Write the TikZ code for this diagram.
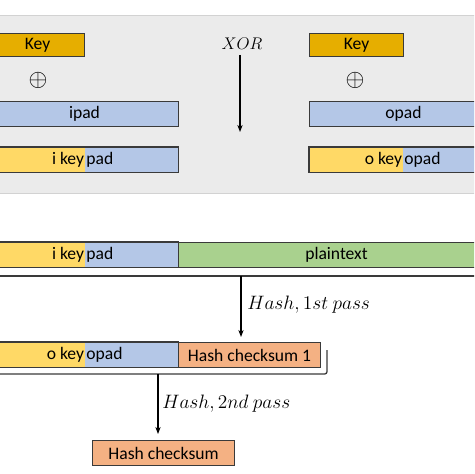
\documentclass[tikz,border=0pt]{standalone}
\usepackage{fontspec}
\setmainfont{Carlito}
\usetikzlibrary{arrows.meta}
\definecolor{keygold}{HTML}{E6AE00}
\definecolor{keylight}{HTML}{FFD966}
\definecolor{padblue}{HTML}{B4C7E7}
\definecolor{plaingreen}{HTML}{A9D18E}
\definecolor{sumorange}{HTML}{F4B183}
\definecolor{edge}{HTML}{3A3A3A}
\definecolor{panel}{HTML}{EBEBEB}
\definecolor{panelline}{HTML}{D2D2D2}
\tikzset{
  bar/.style={inner sep=0pt, minimum height=7.5mm, anchor=north west, font=\fontsize{15}{17}\selectfont},
  outline/.style={draw=edge, line width=0.9pt},
  lbl/.style={inner sep=1pt, font=\fontsize{15}{17}\selectfont},
  mlbl/.style={inner sep=0pt, anchor=west, font=\fontsize{14.4}{17}\selectfont, scale=1.15},
  arr/.style={line width=1.1pt, -{Stealth[length=6pt,width=4.5pt]}},
}
\begin{document}
\begin{tikzpicture}[x=0.3mm,y=-0.3mm]
\useasboundingbox (0,0) rectangle (474,474);
\clip (0,0) rectangle (474,474);
% XOR panel
\draw[fill=panel, draw=panelline] (-10,15) rectangle (497,193);
\node[bar, outline, fill=keygold, minimum width=28.2mm, minimum height=6.9mm] (keyL) at (-10,33) {Key};
\node[bar, outline, fill=keygold, minimum width=28.2mm, minimum height=6.9mm] (keyR) at (309,33) {Key};
\node[font=\fontsize{17.28}{20}\selectfont, inner sep=0pt, scale=1.2] (xorL) at (38,80) {$\oplus$};
\node[font=\fontsize{17.28}{20}\selectfont, inner sep=0pt, scale=1.2] (xorR) at (355,80) {$\oplus$};
\node[bar, outline, fill=padblue, minimum width=56.4mm] (ipad) at (-10,101) {ipad};
\node[bar, outline, fill=padblue, minimum width=56.4mm] (opad) at (309,101) {opad};
% i key pad / o key opad
\node[bar, fill=keylight, minimum width=28.5mm] (ikey) at (-10,147) {};
\node[bar, fill=padblue, minimum width=27.9mm] (ipadB) at (85,147) {};
\draw[outline] (ikey.north west) rectangle (ipadB.south east);
\node[lbl, anchor=east] (ikeyT) at (ikey.east) {i key};
\node[lbl, anchor=west] (ipadT) at (ipadB.west) {pad};
\node[bar, fill=keylight, minimum width=28.2mm] (okey) at (309,147) {};
\node[bar, fill=padblue, minimum width=28.2mm] (opadB) at (403,147) {};
\draw[outline] (okey.north west) rectangle (opadB.south east);
\node[lbl, anchor=east] (okeyT) at (okey.east) {o key};
\node[lbl, anchor=west] (opadT) at (opadB.west) {opad};
\node[font=\fontsize{14.4}{16}\selectfont, inner sep=0pt] (xor) at (242,44) {$XOR$};
\coordinate (xorEnd) at (240,132);
\draw[arr] (240,55) -- (xorEnd);
% first pass
\node[bar, fill=keylight, minimum width=28.5mm] (ikey2) at (-10,242) {};
\node[bar, fill=padblue, minimum width=27.9mm] (ipad2) at (85,242) {};
\draw[outline] (ikey2.north west) rectangle (ipad2.south east);
\node[lbl, anchor=east] (ikey2T) at (ikey2.east) {i key};
\node[lbl, anchor=west] (ipad2T) at (ipad2.west) {pad};
\node[bar, outline, fill=plaingreen, minimum width=94.8mm] (plain) at (178,242) {plaintext};
\coordinate (b1L) at (-10,276);
\coordinate (b1R) at (497,276);
\draw[line width=1.1pt, edge] (b1L) -- (b1R);
\coordinate (h1) at (241,276);
\coordinate (h1End) at (241,337);
\draw[arr] (h1) -- (h1End);
\node[mlbl] (pass1) at (247,305) {$Hash, 1st\ pass$};
% second pass
\node[bar, fill=keylight, minimum width=28.5mm] (okey2) at (-10,342) {};
\node[bar, fill=padblue, minimum width=27.9mm] (opad2) at (85,342) {};
\draw[outline] (okey2.north west) rectangle (opad2.south east);
\node[lbl, anchor=east] (okey2T) at (okey2.east) {o key};
\node[lbl, anchor=west] (opad2T) at (opad2.west) {opad};
\node[bar, outline, fill=sumorange, minimum width=42.6mm] (hck1) at (178,342) {Hash checksum 1};
\coordinate (b2L) at (-10,374);
\coordinate (b2C) at (327,374);
\coordinate (b2T) at (327,350);
\draw[line width=1.1pt, edge, rounded corners=2pt] (b2L) -- (b2C) -- (b2T);
\coordinate (h2) at (158,374);
\node[bar, outline, fill=sumorange, minimum width=42.6mm] (hck) at (92,440) {Hash checksum};
\coordinate (h2End) at (158,434);
\draw[arr] (h2) -- (h2End);
\node[mlbl] (pass2) at (162,404) {$Hash, 2nd\ pass$};
\end{tikzpicture}
\end{document}
